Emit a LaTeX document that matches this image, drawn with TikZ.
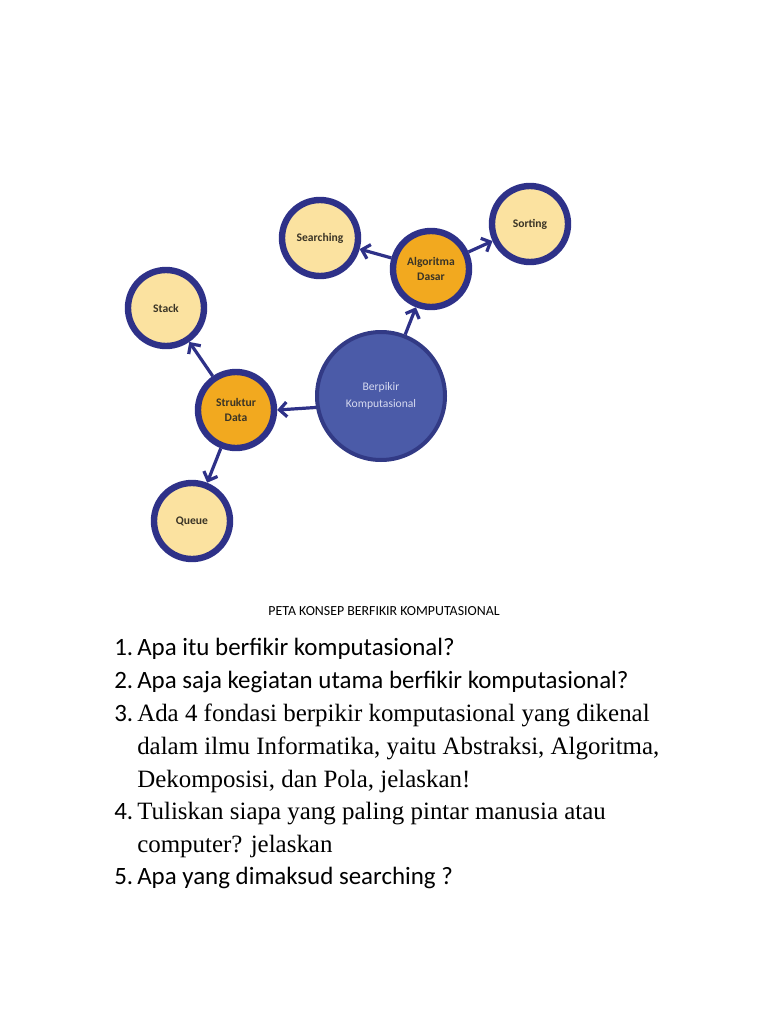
\documentclass[tikz,border=0pt]{standalone}
\usepackage{fontspec}
\setmainfont{Liberation Serif}
\newfontfamily\carl{Carlito}
\usetikzlibrary{arrows.meta}
\definecolor{navy}{HTML}{2E3188}
\definecolor{yel}{HTML}{FBE2A0}
\definecolor{org}{HTML}{F2A91F}
\definecolor{bigblue}{HTML}{4B5BA8}
\definecolor{bignavy}{HTML}{323A85}
\definecolor{lbl}{HTML}{3A3426}
\definecolor{lighttxt}{HTML}{D6DAF0}
\tikzset{
  leaf/.style={circle, draw=navy, fill=yel, line width=4.8pt, minimum size=57pt, inner sep=0pt,
    font=\carl\bfseries\fontsize{8.7}{11}\selectfont, text=lbl, align=center},
  mid/.style={leaf, fill=org},
  hub/.style={circle, draw=bignavy, fill=bigblue, line width=3pt, minimum size=96pt, inner sep=0pt,
    font=\carl\fontsize{8.7}{13}\selectfont, text=lighttxt, align=center},
  conn/.style={draw=navy, line width=2.4pt, -{Straight Barb[length=5.5pt,width=11pt]}},
  sans/.style={anchor=base west, inner sep=0pt, font=\carl\fontsize{18.7}{22}\selectfont},
  serif/.style={anchor=base west, inner sep=0pt, font=\rmfamily\fontsize{18.7}{22}\selectfont},
  captxt/.style={anchor=base, inner sep=0pt, font=\carl\fontsize{10.4}{12}\selectfont}
}
\begin{document}
\begin{tikzpicture}[x=0.75pt,y=-0.75pt]
\useasboundingbox[fill=white] (0,0) rectangle (768,1024);
% diagram
\node[hub] (berpikir) at (381,396) {Berpikir\\Komputasional};
\node[mid] (alg) at (431,269) {Algoritma\\Dasar};
\node[leaf] (searching) at (320,238) {Searching};
\node[leaf] (sorting) at (530,224) {Sorting};
\node[mid] (struktur) at (236,410) {Struktur\\Data};
\node[leaf] (stack) at (166,308) {Stack};
\node[leaf] (queue) at (192,521) {Queue};
\draw[conn] (berpikir) -- (alg);
\draw[conn] (berpikir.190) -- (struktur.east);
\draw[conn] (alg) -- (searching);
\draw[conn] (alg) -- (sorting);
\draw[conn] (struktur) -- (stack);
\draw[conn] (struktur) -- (queue);
% caption
\node[captxt] (caption) at (384,615) {PETA KONSEP BERFIKIR KOMPUTASIONAL};
% list
\node[sans] (n1) at (114,655) {1.};
\node[sans] (t1) at (137,655) {Apa itu berfikir komputasional?};
\node[sans] (n2) at (114,688) {2.};
\node[sans] (t2) at (137,688) {Apa saja kegiatan utama berfikir komputasional?};
\node[sans] (n3) at (114,721) {3.};
\node[serif] (t3a) at (137,721) {Ada 4 fondasi berpikir komputasional yang dikenal};
\node[serif] (t3b) at (137,754) {dalam ilmu Informatika, yaitu Abstraksi, Algoritma,};
\node[serif] (t3c) at (137,787) {Dekomposisi, dan Pola, jelaskan!};
\node[sans] (n4) at (114,819) {4.};
\node[serif] (t4a) at (137,819) {Tuliskan siapa yang paling pintar manusia atau};
\node[serif] (t4b) at (137,852) {computer? jelaskan};
\node[sans] (n5) at (114,884) {5.};
\node[sans] (t5) at (137,884) {Apa yang dimaksud searching ?};
\end{tikzpicture}
\end{document}
